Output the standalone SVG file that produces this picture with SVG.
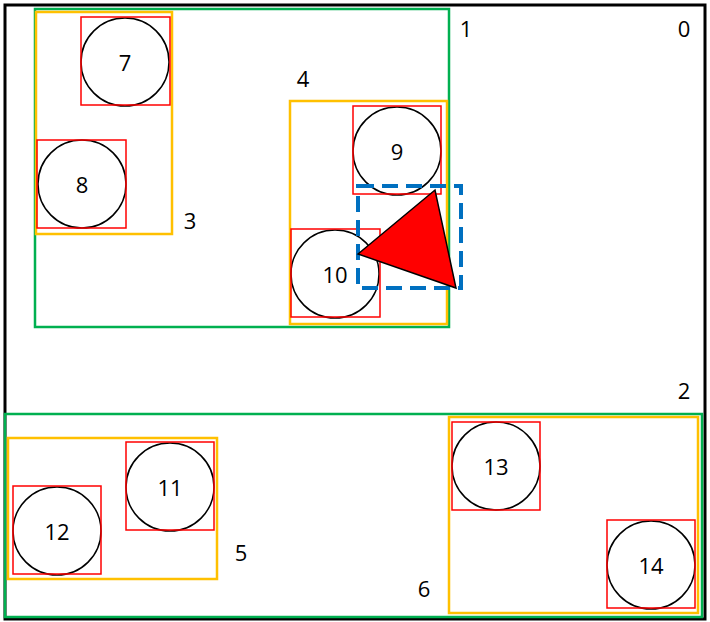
<svg xmlns="http://www.w3.org/2000/svg" width="710" height="622" viewBox="0 0 710 622">
<style>
text{font-family:"Open Sans","Noto Sans",sans-serif;font-size:22px;fill:#000;text-anchor:middle;dominant-baseline:central}
.g{fill:none;stroke:#00b050;stroke-width:2.5}
.y{fill:none;stroke:#ffc000;stroke-width:2.5}
.r{fill:none;stroke:#ff0000;stroke-width:1.5}
.c{fill:#fff;stroke:#000;stroke-width:1.5}
</style>
<rect width="710" height="622" fill="#fff"/>
<g id="n0"><rect x="5" y="5" width="700" height="614" fill="none" stroke="#000" stroke-width="3"/><text x="684" y="28">0</text></g>
<g id="n1"><rect class="g" x="35" y="9" width="414" height="318"/><text x="466" y="28">1</text></g>
<g id="n2"><text x="684" y="390">2</text></g>
<g id="n3"><rect class="y" x="36" y="12" width="136" height="222"/><text x="190" y="220">3</text></g>
<g id="n4"><rect class="y" x="290" y="101" width="157" height="223"/><text x="303" y="78">4</text></g>
<g id="n7"><circle class="c" cx="125" cy="62" r="44"/><rect class="r" x="81" y="17" width="89" height="88"/><text x="125" y="62">7</text></g>
<g id="n8"><circle class="c" cx="82" cy="184" r="44"/><rect class="r" x="37" y="140" width="89" height="88"/><text x="82" y="184">8</text></g>
<g id="n9"><circle class="c" cx="397" cy="151" r="44"/><rect class="r" x="353" y="106" width="88" height="88"/><text x="397" y="151">9</text></g>
<g id="n10"><circle class="c" cx="335" cy="274" r="44"/><rect class="r" x="291" y="229" width="89" height="88"/><text x="335" y="274">10</text></g>
<g id="shape"><rect x="358" y="186" width="103" height="102" fill="none" stroke="#0070c0" stroke-width="4" stroke-dasharray="16,8"/><polygon points="358,254 435,190 456,288" fill="#ff0000" stroke="#000" stroke-width="1.5"/></g>
<g id="n6"><rect class="g" x="5" y="414" width="697" height="203"/><text x="424" y="588">6</text></g>
<g id="n5"><rect class="y" x="8" y="438" width="209" height="141"/><text x="241" y="552">5</text></g>
<g id="n11"><circle class="c" cx="170" cy="487" r="44"/><rect class="r" x="126" y="442" width="88" height="88"/><text x="170" y="487">11</text></g>
<g id="n12"><circle class="c" cx="57" cy="531" r="44"/><rect class="r" x="13" y="486" width="88" height="88"/><text x="57" y="531">12</text></g>
<g id="nY"><rect class="y" x="449" y="417" width="249" height="196"/></g>
<g id="n13"><circle class="c" cx="496" cy="466" r="44"/><rect class="r" x="452" y="422" width="88" height="88"/><text x="496" y="466">13</text></g>
<g id="n14"><circle class="c" cx="651" cy="565" r="44"/><rect class="r" x="607" y="520" width="88" height="88"/><text x="651" y="565">14</text></g>
<g id="connectors"/>
</svg>
